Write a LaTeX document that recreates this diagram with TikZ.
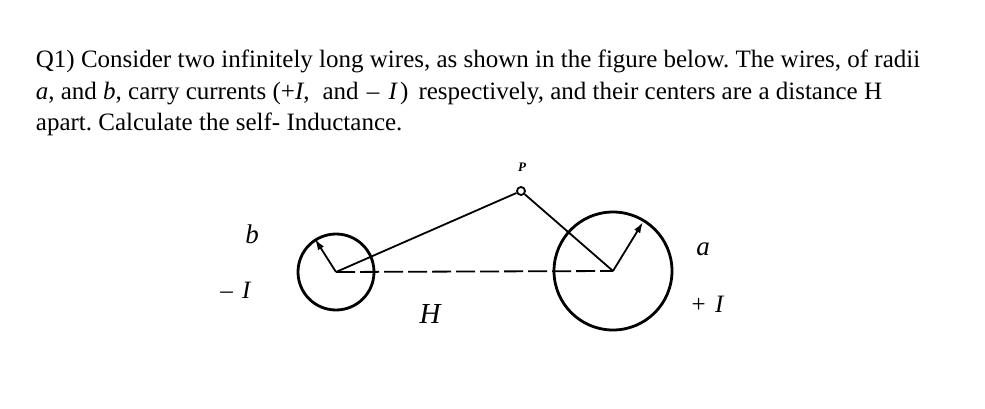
\documentclass[tikz,border=0pt]{standalone}
\usepackage{amsmath}
\usepackage{fontspec}
\setmainfont{Liberation Serif}
\usetikzlibrary{arrows.meta}
\frenchspacing
\begin{document}
\begin{tikzpicture}[x=1pt,y=-1pt,line width=1.8pt,
    lbl/.style={inner sep=0pt,anchor=center},
    txtline/.style={inner sep=0pt,anchor=base west,font=\fontsize{25}{27}\selectfont},
    wire/.style={draw,circle,inner sep=0pt,line width=2.8pt}]
                \useasboundingbox (0,0) rectangle (985,409);
                \fill[white] (0,0) rectangle (985,409);
                % question text
                \node[txtline] (line1) at (35,68) {Q1) Consider two infinitely long wires, as shown in the figure below. The wires, of radii};
                \node[txtline] (line2) at (35,99.5) {\textit{a}, and \textit{b}, carry currents (+\textit{I},\hspace{13pt}and\hspace{2pt} -- \hspace{3pt}\textit{I}\hspace{2pt}) \hspace{4pt}respectively, and their centers are a distance H};
                \node[txtline] (line3) at (35,131) {apart. Calculate the self- Inductance.};
                % wires
                \coordinate (cb) at (336,272);
                \coordinate (ca) at (613,271);
                \node[wire,minimum size=76pt] (wireb) at (cb) {};
                \node[wire,minimum size=118pt] (wirea) at (ca) {};
                \node[draw,circle,minimum size=8pt,inner sep=0pt] (p) at (521,191) {};
                \draw (cb)--(p);
                \draw (p)--(ca);
                \draw[dash pattern=on 19pt off 5pt] (cb)--(ca);
                % radii
                \coordinate (tipb) at (315,239);
                \coordinate (tipa) at (643,222);
                \draw[-{Latex[length=11pt,width=7pt]}] (cb)--(tipb);
                \draw[-{Latex[length=11pt,width=7pt]}] (ca)--(tipa);
                % labels
                \node[lbl,font=\bfseries\itshape\fontsize{13}{14}\selectfont] (plabel) at (522,167) {P};
                \node[lbl,font=\itshape\fontsize{27}{29}\selectfont] (blabel) at (252,234) {b};
                \node[lbl,font=\itshape\fontsize{27}{29}\selectfont] (alabel) at (703,249) {a};
                \node[lbl,font=\fontsize{25}{27}\selectfont] (minusi) at (236,290) {--\hspace{3pt} \textit{I}};
                \node[lbl,font=\fontsize{25}{27}\selectfont] (plusi) at (708,304) {+\hspace{3pt} \textit{I}};
                \node[lbl,font=\itshape\fontsize{29}{31}\selectfont] (hlabel) at (430,314) {H};
            \end{tikzpicture}
\end{document}
